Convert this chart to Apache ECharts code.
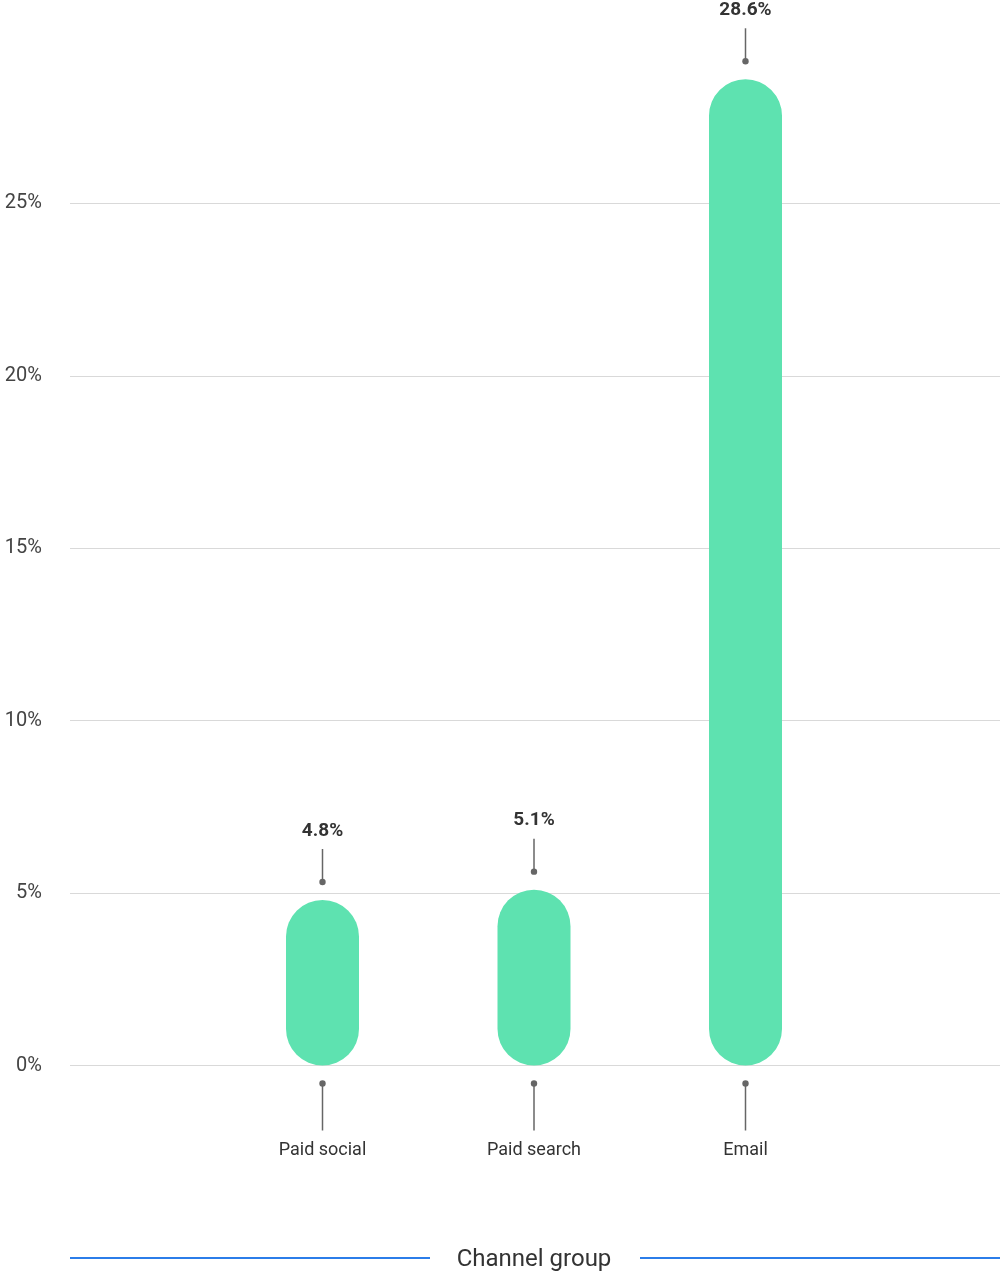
<!DOCTYPE html>
<html><head><meta charset="utf-8">
<script src="https://cdn.jsdelivr.net/npm/echarts@6/dist/echarts.min.js"></script>
<style>html,body{margin:0;padding:0;background:#fff}#c{width:1000px;height:1276px}</style>
</head><body><div id="c"></div>
<script>
const categories = ['Paid social', 'Paid search', 'Email'];
const values = [4.8, 5.1, 28.6];
const yTicks = [0, 5, 10, 15, 20, 25, 30];
const axisTitle = 'Channel group';

const FONT = 'Roboto';
const chart = echarts.init(document.getElementById('c'));
const yCommon = { type: 'value', min: 0, max: 30, interval: 5 };
const option = {
  animation: false,
  grid: [
    { left: 70, right: 0, top: 31, bottom: 210.5, outerBoundsMode: 'none', containLabel: false },
    { left: 216.75, right: 148.75, top: 31, bottom: 210.5, outerBoundsMode: 'none', containLabel: false }
  ],
  xAxis: [
    { gridIndex: 0, type: 'category', data: categories, show: false },
    { gridIndex: 1, type: 'category', data: categories,
      axisLine: { show: false }, axisTick: { show: false }, axisLabel: { show: false },
      name: axisTitle, nameLocation: 'middle', nameGap: 182,
      nameTextStyle: { fontFamily: FONT, fontSize: 24, color: '#333' } }
  ],
  yAxis: [
    Object.assign({ gridIndex: 0,
      axisLine: { show: false }, axisTick: { show: false },
      axisLabel: { fontFamily: FONT, fontSize: 20, color: '#444', margin: 28, showMaxLabel: false,
        formatter: v => v + '%' },
      splitLine: { lineStyle: { width: 1, color: yTicks.map((t, i) => i === yTicks.length - 1 ? 'rgba(0,0,0,0)' : '#d9d9d9') } }
    }, yCommon),
    Object.assign({ gridIndex: 1, show: false, splitLine: { show: false } }, yCommon)
  ],
  graphic: [
    { type: 'line', shape: { x1: 70, y1: 1258, x2: 430, y2: 1258 }, style: { stroke: '#2b7de9', lineWidth: 2 } },
    { type: 'line', shape: { x1: 640, y1: 1258, x2: 1000, y2: 1258 }, style: { stroke: '#2b7de9', lineWidth: 2 } }
  ],
  series: [
    { type: 'bar', xAxisIndex: 1, yAxisIndex: 1, data: values, barWidth: 73,
      itemStyle: { color: '#5ee2b0', borderRadius: 36.5 } },
    { type: 'custom', xAxisIndex: 1, yAxisIndex: 1, clip: false, silent: true,
      data: values.map((v, i) => [i, v]),
      renderItem: function (params, api) {
        const top = api.coord([api.value(0), api.value(1)]);
        const base = api.coord([api.value(0), 0]);
        const x = top[0];
        const dotY = top[1] - 18;
        const cDotY = base[1] + 18;
        return { type: 'group', children: [
          { type: 'line', shape: { x1: x, y1: dotY, x2: x, y2: dotY - 33 }, style: { stroke: '#666', lineWidth: 1.5 } },
          { type: 'circle', shape: { cx: x, cy: dotY, r: 3.2 }, style: { fill: '#666' } },
          { type: 'text', x: x, y: dotY - 51, style: { text: api.value(1).toFixed(1) + '%', fontFamily: FONT, fontWeight: 'bold', fontSize: 19, fill: '#333', align: 'center', verticalAlign: 'middle' } },
          { type: 'line', shape: { x1: x, y1: cDotY, x2: x, y2: cDotY + 47 }, style: { stroke: '#666', lineWidth: 1.5 } },
          { type: 'circle', shape: { cx: x, cy: cDotY, r: 3.2 }, style: { fill: '#666' } },
          { type: 'text', x: x, y: cDotY + 67, style: { text: categories[params.dataIndex], fontFamily: FONT, fontSize: 18, fill: '#333', align: 'center', verticalAlign: 'middle' } }
        ] };
      }
    }
  ]
};
chart.setOption(option);
</script></body></html>
